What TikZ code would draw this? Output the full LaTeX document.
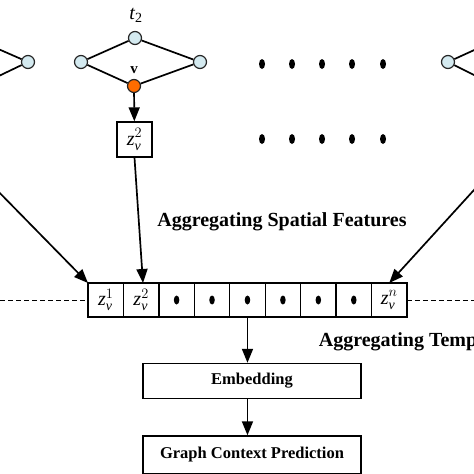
\documentclass[tikz,border=0pt]{standalone}
\usepackage{fontspec}
\setmainfont{Liberation Serif}
\usetikzlibrary{arrows.meta,shapes.geometric}
\newcommand\zvv[1]{$\mathit{z}^{#1}_{\mathit{v}}$}
\definecolor{gcol}{HTML}{D4EAF0}
\begin{document}
\begin{tikzpicture}[x=1pt,y=-1pt,
  line width=1.7pt,
  gnode/.style={circle,draw=black!85,line width=1.2pt,fill=gcol,inner sep=0pt,minimum size=13pt},
  vnode/.style={circle,draw=black!85,line width=1.2pt,fill=orange!85!red,inner sep=0pt,minimum size=13pt},
  bigdot/.style={ellipse,fill=black,inner sep=0pt,minimum width=6pt,minimum height=10pt},
  celldot/.style={ellipse,fill=black,inner sep=0pt,minimum width=5.5pt,minimum height=9pt},
  cell/.style={draw,line width=1.4pt,minimum width=35.44pt,minimum height=34pt,inner sep=0pt,outer sep=0pt},
  zlab/.style={font=\fontsize{20}{22}\selectfont,inner sep=0pt},
  zbox/.style={draw,line width=1.4pt,minimum width=35pt,minimum height=35pt,inner sep=0pt,font=\fontsize{20}{22}\selectfont},
  wbox/.style={draw,line width=1.4pt,minimum width=218pt,minimum height=35pt,inner sep=0pt,font=\bfseries\fontsize{16.5}{19}\selectfont},
  lab/.style={font=\bfseries\fontsize{20}{22}\selectfont,inner sep=0pt},
  arr/.style={-{Triangle[length=14pt,width=11pt]}},
  dashln/.style={line width=1pt,dash pattern=on 5pt off 3pt}
]
\useasboundingbox (0,0) rectangle (474,474);
\clip (0,0) rectangle (474,474);
\fill[white] (0,0) rectangle (474,474);
% left partial graph
\coordinate (la) at (-20,41);
\coordinate (lb) at (-20,85);
\node[gnode] (lg) at (28,62) {};
\draw (la) -- (lg) -- (lb);
% middle graph
\node[gnode] (top) at (135,38) {};
\node[gnode] (gl) at (81,62) {};
\node[gnode] (gr) at (200,62) {};
\node[vnode] (v) at (134,86) {};
\node[font=\itshape\fontsize{20}{22}\selectfont,inner sep=0pt] (t2) at (136,15) {t\textsubscript{\upshape 2}};
\node[font=\bfseries\fontsize{15}{16}\selectfont,inner sep=0pt] (vl) at (134,70) {v};
\draw (gl) -- (top) -- (gr) -- (v) -- (gl);
% right partial graph
\coordinate (ra) at (494,41);
\coordinate (rb) at (494,85);
\node[gnode] (rg) at (448,62) {};
\draw (ra) -- (rg) -- (rb);
% dots
\foreach \i/\x in {1/262,2/292,3/322,4/352,5/383}{
  \node[bigdot] (da\i) at (\x,64) {};
  \node[bigdot] (db\i) at (\x,139) {};
}
% z box
\node[zbox] (z2) at (134.5,139.5) {\zvv{2}};
\draw[arr] (v) -- (z2);
% label
\node[lab] (spat) at (282,222) {Aggregating Spatial Features};
% cells
\foreach \i in {1,...,9}{
  \node[cell] (c\i) at ({88+35.44*(\i-0.5)},300) {};
}
\node[zlab] (l1) at (c1) {\zvv{1}};
\node[zlab] (l2) at (c2) {\zvv{2}};
\node[zlab] (ln) at (c9) {\zvv{n}};
\foreach \i in {3,...,8}{ \node[celldot] (cd\i) at (c\i) {}; }
% dashed lines
\coordinate (dl) at (0,300);
\coordinate (dr) at (474,300);
\draw[dashln] (dl) -- (c1.west);
\draw[dashln] (c9.east) -- (dr);
% arrows into cells
\coordinate (lsrc) at (-10,183);
\coordinate (rsrc) at (484,179);
\coordinate (c2t) at (143,283);
\draw[arr] (lsrc) -- (c1.north west);
\draw[arr] (z2.south) -- (c2t);
\draw[arr] (rsrc) -- (c9.north);
% temporal label
\node[lab,anchor=west] (temp) at (318,342) {Aggregating Temporal Features};
% boxes
\node[wbox] (emb) at (252,381) {Embedding};
\node[wbox,minimum height=38pt] (gcp) at (252,455) {Graph Context Prediction};
\draw[arr] (c5.south) -- (c5.south |- emb.north);
\draw[arr] (emb.south -| c5.south) -- (c5.south |- gcp.north);
\end{tikzpicture}
\end{document}
